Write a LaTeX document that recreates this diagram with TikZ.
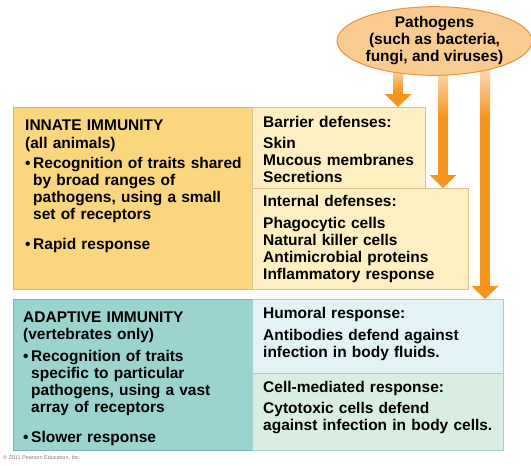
\documentclass[tikz,border=0pt]{standalone}
\usepackage{fontspec}
\setmainfont{Liberation Sans}
\usepackage{tikz}
\usetikzlibrary{arrows.meta,calc,positioning,shapes.geometric}
\definecolor{innate-fill}{HTML}{FAD67F}
\definecolor{innate-line}{HTML}{D9BA6C}
\definecolor{pale-fill}{HTML}{FDEFC1}
\definecolor{pale-line}{HTML}{D9C48C}
\definecolor{adapt-fill}{HTML}{9BD3CF}
\definecolor{adapt-line}{HTML}{74B8B5}
\definecolor{humor-fill}{HTML}{E3F3F5}
\definecolor{cell-fill}{HTML}{D9EEE2}
\definecolor{light-line}{HTML}{9FCFD1}
\definecolor{patho-fill}{HTML}{F9CB91}
\definecolor{patho-line}{HTML}{E8953A}
\definecolor{arrow-or}{HTML}{F7941E}
\definecolor{arrow-pale}{HTML}{FBE3C4}

\begin{document}
\begin{tikzpicture}[x=1pt,y=-1pt,
  box/.style={draw,line width=1pt,inner sep=0,outer sep=0,anchor=north west},
  txt/.style={anchor=base west,inner sep=0,align=left,text width=236pt,
    font=\bfseries\fontsize{15.5}{17}\selectfont}]
  \useasboundingbox (0,0) rectangle (531,466);

  % Medfoedt immunforsvar
  \node[box,fill=innate-fill,draw=innate-line,minimum width=239pt,minimum height=182pt] (innate) at (13,107) {};
  \node[box,fill=pale-fill,draw=pale-line,minimum width=173pt,minimum height=81pt] (barrier) at (innate.north east) {};
  \node[box,fill=pale-fill,draw=pale-line,minimum width=216pt,minimum height=101pt] (internal) at (barrier.south west) {};

  % Adaptivt immunforsvar
  \node[box,fill=adapt-fill,draw=adapt-line,minimum width=239pt,minimum height=151pt,
    below right=10pt and 0pt of innate.south west] (adaptive) {};
  \node[box,fill=humor-fill,draw=light-line,minimum width=251pt,minimum height=74pt] (humoral) at (adaptive.north east) {};
  \node[box,fill=cell-fill,draw=light-line,minimum width=251pt,minimum height=77pt] (cellmed) at (humoral.south west) {};

  % Tekster
  \node[txt] (innatetxt) at ([shift={(12,23)}]innate.north west)
    {INNATE IMMUNITY\\[1pt]
     (all animals)\\[3pt]
     \makebox[8pt][l]{\textbullet}Recognition of traits shared\\
     \hspace*{8pt}by broad ranges of\\
     \hspace*{8pt}pathogens, using a small\\
     \hspace*{8pt}set of receptors\\[13pt]
     \makebox[8pt][l]{\textbullet}Rapid response};
  \node[txt] (barriertxt) at ([shift={(11,20)}]barrier.north west)
    {Barrier defenses:\\[4pt]
     Skin\\
     Mucous membranes\\
     Secretions};
  \node[txt] (internaltxt) at ([shift={(11,18)}]internal.north west)
    {Internal defenses:\\[5pt]
     Phagocytic cells\\
     Natural killer cells\\
     Antimicrobial proteins\\
     Inflammatory response};
  \node[txt] (adaptivetxt) at ([shift={(10,23)}]adaptive.north west)
    {ADAPTIVE IMMUNITY\\
     (vertebrates only)\\[5pt]
     \makebox[8pt][l]{\textbullet}Recognition of traits\\
     \hspace*{8pt}specific to particular\\
     \hspace*{8pt}pathogens, using a vast\\
     \hspace*{8pt}array of receptors\\[13pt]
     \makebox[8pt][l]{\textbullet}Slower response};
  \node[txt] (humoraltxt) at ([shift={(11,19)}]humoral.north west)
    {Humoral response:\\[5pt]
     Antibodies defend against\\
     infection in body fluids.};
  \node[txt] (cellmedtxt) at ([shift={(11,19)}]cellmed.north west)
    {Cell-mediated response:\\[4pt]
     Cytotoxic cells defend\\
     against infection in body cells.};

  % Pile fra patogenerne
  \foreach \ax/\tgt/\fe in {398/barrier/92,443/internal/118,485/humoral/118}{
    \coordinate (from-\tgt) at (\ax,64);
    \coordinate (to-\tgt) at (\tgt.north -| from-\tgt);
    \shade[top color=arrow-pale,bottom color=arrow-or] ($(from-\tgt)+(-5,0)$) rectangle (\ax+5,\fe);
    \fill[arrow-or] (\ax-5,\fe-0.5) rectangle ($(to-\tgt)+(5,-12.5)$);
    \fill[arrow-or] ($(to-\tgt)+(-13.5,-13)$) -- (to-\tgt) -- ($(to-\tgt)+(13.5,-13)$) -- cycle;
  }

  % Patogener
  \node[ellipse,draw=patho-line,fill=patho-fill,line width=1pt,minimum width=175pt,minimum height=68pt,
    inner sep=0,align=center,font=\bfseries\fontsize{15.5}{17}\selectfont] (pathogens) at (434.5,41)
    {Pathogens\\(such as bacteria,\\fungi, and viruses)};

  \node[anchor=base west,inner sep=0,text=gray,font=\fontsize{5.5}{6}\selectfont] (copy) at (3,459)
    {\textcopyright\ 2011 Pearson Education, Inc.};
\end{tikzpicture}
\end{document}
